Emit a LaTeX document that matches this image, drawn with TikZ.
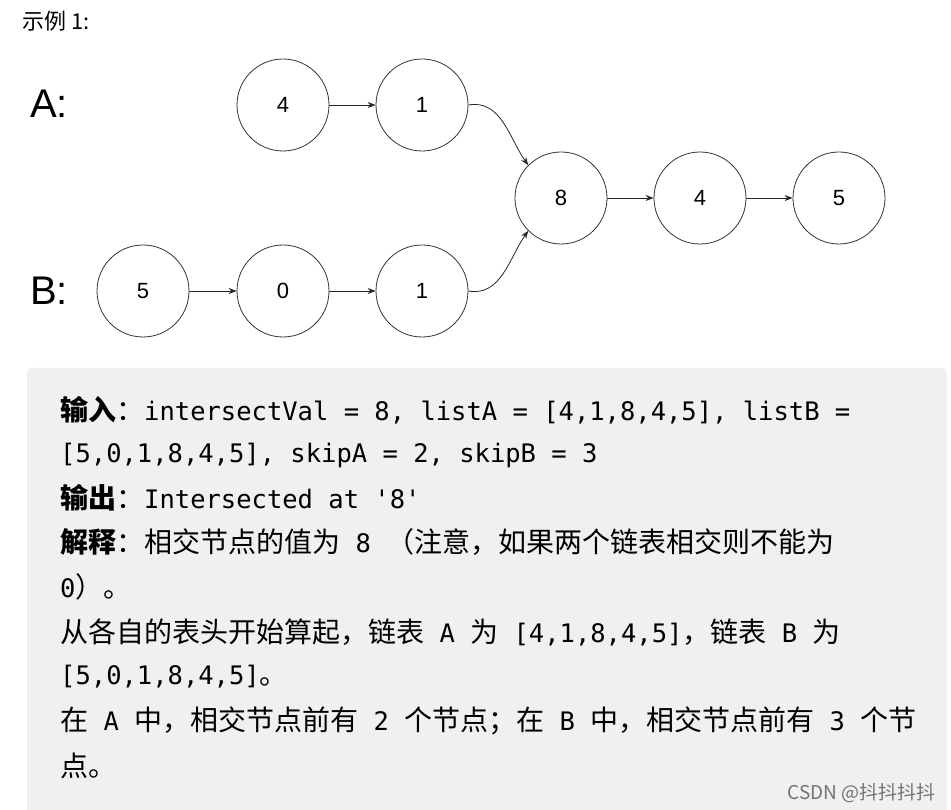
\documentclass[tikz,border=0pt]{standalone}
\usepackage{fontspec}
\setmainfont{Liberation Sans}
\newfontfamily\cjk{Noto Sans CJK SC}
\newfontfamily\code{DejaVu Sans Mono}
\usetikzlibrary{positioning,arrows.meta}
\tikzset{
  listnode/.style={circle, draw=black!80, thick, fill=white, minimum size=92pt, inner sep=0pt, font=\fontsize{22}{22}\selectfont},
  link/.style={-{Stealth[length=8pt,width=6pt]}, thick, black!85},
  txtline/.style={anchor=west, inner sep=0pt, font=\fontsize{26}{26}\selectfont}
}
\newcommand{\zh}[1]{{\cjk\fontsize{28}{28}\selectfont #1}}
\newcommand{\zhb}[1]{{\cjk\bfseries\fontsize{28}{28}\selectfont #1}}
\newcommand{\mono}[1]{{\code\fontsize{25.5}{26}\selectfont #1}}
\begin{document}
\begin{tikzpicture}[x=1pt,y=-1pt]
\useasboundingbox (0,0) rectangle (951,810);
\node[anchor=west, inner sep=0pt, font=\cjk\fontsize{22}{22}\selectfont] (title) at (22,21) {示例 1:};
\node[anchor=west, inner sep=0pt, font=\fontsize{40}{40}\selectfont] (labA) at (30,104) {A:};
\node[anchor=west, inner sep=0pt, font=\fontsize{40}{40}\selectfont] (labB) at (30,291) {B:};
% list A
\node[listnode] (a4) at (283,105) {4};
\node[listnode] (a1) at (422,105) {1};
% shared tail
\node[listnode] (c8) at (561,198) {8};
\node[listnode] (c4) at (700,198) {4};
\node[listnode] (c5) at (839,198) {5};
% list B
\node[listnode] (b5) at (143,291) {5};
\node[listnode] (b0) at (283,291) {0};
\node[listnode] (b1) at (422,291) {1};

\draw[link] (a4) -- (a1);
\draw[link] (c8) -- (c4);
\draw[link] (c4) -- (c5);
\draw[link] (b5) -- (b0);
\draw[link] (b0) -- (b1);
\draw[link] (a1.east) to[out=10, in=125] (c8.north west);
\draw[link] (b1.east) to[out=-10, in=-125] (c8.south west);

% example box
\fill[black!6, rounded corners=4pt] (27,368) rectangle (947,815);
\node[txtline] (l1) at (60,410) {\zhb{输入}\zh{：}\mono{intersectVal = 8, listA = [4,1,8,4,5], listB =}};
\node[txtline] (l2) at (60,455) {\mono{[5,0,1,8,4,5], skipA = 2, skipB = 3}};
\node[txtline] (l3) at (60,498) {\zhb{输出}\zh{：}\mono{Intersected at '8'}};
\node[txtline] (l4) at (60,542) {\zhb{解释}\zh{：相交节点的值为}\mono{ 8 }\zh{（注意，如果两个链表相交则不能为}};
\node[txtline] (l5) at (60,587) {\mono{0}\zh{）。}};
\node[txtline] (l6) at (60,632) {\zh{从各自的表头开始算起，链表}\mono{ A }\zh{为}\mono{ [4,1,8,4,5]}\zh{，链表}\mono{ B }\zh{为}};
\node[txtline] (l7) at (60,677) {\mono{[5,0,1,8,4,5]}\zh{。}};
\node[txtline] (l8) at (60,721) {\zh{在}\mono{ A }\zh{中，相交节点前有}\mono{ 2 }\zh{个节点；在}\mono{ B }\zh{中，相交节点前有}\mono{ 3 }\zh{个节}};
\node[txtline] (l9) at (60,766) {\zh{点。}};
\node[anchor=east, inner sep=0pt, text=black!55, font=\cjk\fontsize{19}{19}\selectfont] (mark) at (936,793) {CSDN @抖抖抖抖};
\end{tikzpicture}
\end{document}
